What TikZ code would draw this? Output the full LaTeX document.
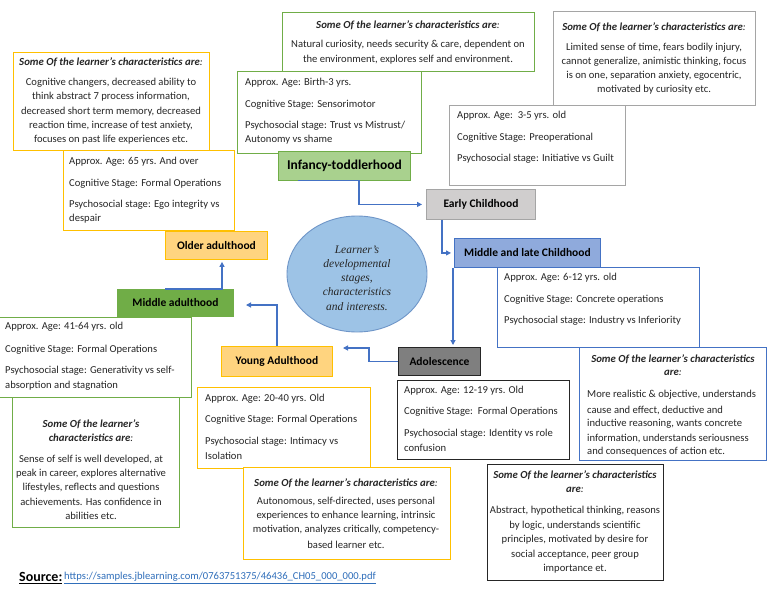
\documentclass[tikz,border=0pt]{standalone}
\usepackage{fontspec}
\setmainfont{Carlito}
\newfontfamily\ellfont{Liberation Serif}
\usetikzlibrary{arrows.meta,calc,shapes.geometric}
\definecolor{ygold}{HTML}{FFC000}
\definecolor{yfill}{HTML}{FFD47F}
\definecolor{gline}{HTML}{70AD47}
\definecolor{gfill}{HTML}{A9D18E}
\definecolor{mgfill}{HTML}{70AD47}
\definecolor{grline}{HTML}{A5A5A5}
\definecolor{grfill}{HTML}{D0CECE}
\definecolor{bline}{HTML}{4472C4}
\definecolor{bfill}{HTML}{8FAADC}
\definecolor{dgfill}{HTML}{7F7F7F}
\definecolor{dkline}{HTML}{262626}
\definecolor{ellfill}{HTML}{9DC3E6}
\definecolor{ellline}{HTML}{6F96C8}
\definecolor{arrc}{HTML}{4472C4}
\definecolor{urlc}{HTML}{2F6EBA}
\definecolor{txc}{HTML}{262626}
\tikzset{
  bx/.style={draw=#1, line width=0.9pt, fill=white, inner sep=0pt, anchor=north west},
  lbl/.style={line width=0.9pt, inner sep=0pt, anchor=north west, font=\fontsize{11.5}{13}\selectfont\bfseries, text=black},
  tx/.style={inner sep=0pt, font=\fontsize{10.6}{12}\selectfont, text=txc},
  arr/.style={draw=arrc, line width=1.1pt, -{Triangle[length=5pt,width=5pt]}},
}
\newcommand\TxC[4]{\node[tx] (#1) at (#2,#3) {#4};}
\newcommand\TxL[4]{\node[tx,anchor=west] (#1) at (#2,#3) {#4};}
\newcommand\bi[1]{{\fontsize{10.8}{12}\selectfont\textbf{\textit{#1}}}}
\newcommand\ttl{\bi{Some Of the learner’s characteristics are}\textit{:}}
\begin{document}
\begin{tikzpicture}[x=1pt,y=-1pt]
\useasboundingbox (0,0) rectangle (768,594);
\fill[white] (0,0) rectangle (768,594);

% ---------- Older adulthood ----------
\node[bx=ygold, minimum width=196pt, minimum height=98pt] (ocb) at (13,52) {};
\TxC{oc0}{111}{62}{\ttl}
\TxC{oc1}{111}{83}{Cognitive changers, decreased ability to}
\TxC{oc2}{111}{97}{think abstract 7 process information,}
\TxC{oc3}{111}{112}{decreased short term memory, decreased}
\TxC{oc4}{111}{126}{reaction time, increase of test anxiety,}
\TxC{oc5}{111}{140}{focuses on past life experiences etc.}
\node[bx=ygold, minimum width=171pt, minimum height=80pt] (oib) at (63,150) {};
\TxL{oi1}{69}{162}{Approx. Age: 65 yrs. And over}
\TxL{oi2}{69}{184}{Cognitive Stage: Formal Operations}
\TxL{oi3}{69}{205}{Psychosocial stage: Ego integrity vs}
\TxL{oi4}{69}{219}{despair}
\node[lbl, draw=ygold, fill=yfill, minimum width=102pt, minimum height=28pt] (ol) at (165,231) {Older adulthood};

% ---------- Middle adulthood ----------
\node[lbl, draw=gline, fill=mgfill, minimum width=116pt, minimum height=27pt] (ma) at (117,289) {Middle adulthood};
\node[bx=gline, minimum width=193pt, minimum height=80pt] (mib) at (-2,317) {};
\TxL{mi1}{5}{327}{Approx. Age: 41-64 yrs. old}
\TxL{mi2}{5}{350}{Cognitive Stage: Formal Operations}
\TxL{mi3}{5}{371}{Psychosocial stage: Generativity vs self-}
\TxL{mi4}{5}{386}{absorption and stagnation}
\node[bx=gline, minimum width=167pt, minimum height=130pt] (mcb) at (12,397) {};
\TxC{mc0}{91}{424}{\bi{Some Of the learner’s}}
\TxC{mc0b}{91}{438}{\bi{characteristics are}\textit{:}}
\TxC{mc1}{91}{460}{Sense of self is well developed, at}
\TxC{mc2}{91}{474}{peak in career, explores alternative}
\TxC{mc3}{91}{488}{lifestyles, reflects and questions}
\TxC{mc4}{91}{502}{achievements. Has confidence in}
\TxC{mc5}{91}{516}{abilities etc.}

% ---------- Infancy-toddlerhood ----------
\node[bx=gline, minimum width=252pt, minimum height=59pt] (icb) at (282,12) {};
\TxC{ic0}{408}{25}{\ttl}
\TxC{ic1}{408}{45}{Natural curiosity, needs security \& care, dependent on}
\TxC{ic2}{408}{60}{the environment, explores self and environment.}
\node[bx=gline, minimum width=184pt, minimum height=82pt] (iib) at (237,71) {};
\TxL{ii1}{245}{83}{Approx. Age: Birth-3 yrs.}
\TxL{ii2}{245}{105}{Cognitive Stage: Sensorimotor}
\TxL{ii3}{245}{126}{Psychosocial stage: Trust vs Mistrust/}
\TxL{ii4}{245}{140}{Autonomy vs shame}
\node[lbl, draw=gline, fill=gfill, minimum width=132pt, minimum height=29pt, font=\fontsize{13.5}{15}\selectfont\bfseries] (inf) at (278,151) {Infancy-toddlerhood};

% ---------- Early childhood ----------
\node[bx=grline, minimum width=202pt, minimum height=94pt] (ecb) at (553,11) {};
\TxC{ec0}{654}{27}{\ttl}
\TxC{ec1}{654}{48}{Limited sense of time, fears bodily injury,}
\TxC{ec2}{654}{62}{cannot generalize, animistic thinking, focus}
\TxC{ec3}{654}{76}{is on one, separation anxiety, egocentric,}
\TxC{ec4}{654}{90}{motivated by curiosity etc.}
\node[bx=grline, minimum width=176pt, minimum height=80pt] (eib) at (449,105) {};
\TxL{ei1}{457}{116}{Approx. Age:\ \ 3-5 yrs. old}
\TxL{ei2}{457}{138}{Cognitive Stage: Preoperational}
\TxL{ei3}{457}{159}{Psychosocial stage: Initiative vs Guilt}
\node[lbl, draw=grline, fill=grfill, minimum width=109pt, minimum height=30pt] (ec) at (426,189) {Early Childhood};

% ---------- Middle and late childhood ----------
\node[lbl, draw=bline, fill=bfill, minimum width=146pt, minimum height=29pt] (mlc) at (454,238) {Middle and late Childhood};
\node[bx=bline, minimum width=202pt, minimum height=80pt] (lib) at (497,267) {};
\TxL{li1}{504}{278}{Approx. Age: 6-12 yrs. old}
\TxL{li2}{504}{300}{Cognitive Stage: Concrete operations}
\TxL{li3}{504}{321}{Psychosocial stage: Industry vs Inferiority}
\node[bx=bline, minimum width=187pt, minimum height=113pt] (lcb) at (579,347) {};
\TxC{lc0}{673}{359}{\bi{Some Of the learner’s characteristics}}
\TxC{lc0b}{673}{373}{\bi{are}\textit{:}}
\TxL{lc1}{587}{395}{More realistic \& objective, understands}
\TxL{lc2}{587}{410}{cause and effect, deductive and}
\TxL{lc3}{587}{424}{inductive reasoning, wants concrete}
\TxL{lc4}{587}{438}{information, understands seriousness}
\TxL{lc5}{587}{452}{and consequences of action etc.}

% ---------- Adolescence ----------
\node[lbl, draw=dkline, fill=dgfill, minimum width=82pt, minimum height=28pt] (ado) at (398,347) {Adolescence};
\node[bx=dkline, minimum width=172pt, minimum height=79pt] (aib) at (397,380) {};
\TxL{ai1}{404}{391}{Approx. Age: 12-19 yrs. Old}
\TxL{ai2}{404}{412}{Cognitive Stage:\ \ Formal Operations}
\TxL{ai3}{404}{434}{Psychosocial stage: Identity vs role}
\TxL{ai4}{404}{448}{confusion}
\node[bx=dkline, minimum width=176pt, minimum height=116pt] (acb) at (487,464) {};
\TxC{ac0}{575}{475}{\bi{Some Of the learner’s characteristics}}
\TxC{ac0b}{575}{490}{\bi{are}\textit{:}}
\TxC{ac1}{575}{511}{Abstract, hypothetical thinking, reasons}
\TxC{ac2}{575}{526}{by logic, understands scientific}
\TxC{ac3}{575}{540}{principles, motivated by desire for}
\TxC{ac4}{575}{555}{social acceptance, peer group}
\TxC{ac5}{575}{569}{importance et.}

% ---------- Young adulthood ----------
\node[lbl, draw=ygold, fill=yfill, minimum width=111pt, minimum height=30pt] (ya) at (221,346) {Young Adulthood};
\node[bx=ygold, minimum width=173pt, minimum height=81pt] (yib) at (197,387) {};
\TxL{yi1}{205}{399}{Approx. Age: 20-40 yrs. Old}
\TxL{yi2}{205}{420}{Cognitive Stage: Formal Operations}
\TxL{yi3}{205}{442}{Psychosocial stage: Intimacy vs}
\TxL{yi4}{205}{456}{Isolation}
\node[bx=ygold, minimum width=207pt, minimum height=92pt] (ycb) at (243,467) {};
\TxC{yc0}{346}{483}{\ttl}
\TxC{yc1}{346}{502}{Autonomous, self-directed, uses personal}
\TxC{yc2}{346}{516}{experiences to enhance learning, intrinsic}
\TxC{yc3}{346}{530}{motivation, analyzes critically, competency-}
\TxC{yc4}{346}{545}{based learner etc.}

% ---------- centre ellipse ----------
\node[ellipse, draw=ellline, fill=ellfill, line width=0.9pt, minimum width=140pt, minimum height=116pt, inner sep=0pt] (ell) at (357,274) {};
\node[inner sep=0pt, align=center, font=\ellfont\itshape\fontsize{11.5}{14.2}\selectfont, text=txc] (ellt) at (357,278) {Learner’s\\developmental\\stages,\\characteristics\\and interests.};

% ---------- connectors ----------
\coordinate (a4end) at (343,348);
\coordinate (a5end) at (246,305);
\draw[arr, shorten >=4pt] ($(inf.south west)+(20,0)$) -- ($(inf.south west)+(81,0)$) |- (ec.west);
\draw[arr, shorten >=3pt] ($(ec.south west)+(16,0)$) |- (mlc.west);
\draw[arr, shorten >=2pt] ($(mlc.south west)+(-1,0)$) -- ($(mlc.south west |- ado.north)+(-1,0)$);
\draw[arr] (ado.west) -- ++(-29,0) |- (a4end);
\draw[arr] (ya.north) |- (a5end);
\draw[arr, shorten >=2pt] ($(ma.north west)+(48,0)$) -| ($(ol.south west)+(57,0)$);

% ---------- source ----------
\node[inner sep=0pt, anchor=west, font=\fontsize{14}{16}\selectfont\bfseries, text=black] (src) at (19,578) {\underline{Source:}};
\node[inner sep=0pt, anchor=west, font=\fontsize{10.6}{12}\selectfont, text=urlc] (url) at (64,578) {\underline{https://samples.jblearning.com/0763751375/46436\_CH05\_000\_000.pdf}};
\end{tikzpicture}
\end{document}
